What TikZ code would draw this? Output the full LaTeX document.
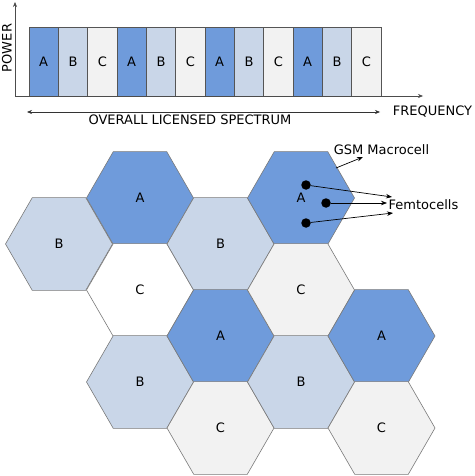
\documentclass[tikz,border=0pt]{standalone}
\usepackage{fontspec}
\setmainfont{DejaVu Sans}
\usetikzlibrary{shapes.geometric,arrows.meta}
\definecolor{cA}{HTML}{6F9BDB}
\definecolor{cB}{HTML}{C9D6E8}
\definecolor{cC}{HTML}{F2F2F2}
\definecolor{edge}{HTML}{7A7A7A}
\definecolor{baredge}{HTML}{555555}
\tikzset{
  txt/.style={font=\fontsize{13}{15}\selectfont, inner sep=0pt},
  hex/.style={regular polygon, regular polygon sides=6, minimum size=107pt,
    inner sep=0pt, outer sep=0pt, draw=edge, line width=0.6pt, txt},
  hexA/.style={hex, fill=cA},
  hexB/.style={hex, fill=cB},
  hexC/.style={hex, fill=cC},
  hexW/.style={hex, fill=white},
  bar/.style={draw=baredge, line width=0.6pt, minimum width=29.33pt, minimum height=69pt,
    inner sep=0pt, outer sep=0pt, txt},
  barA/.style={bar, fill=cA},
  barB/.style={bar, fill=cB},
  barC/.style={bar, fill=cC},
  ax/.style={draw=black!70, line width=0.6pt, -{Stealth[length=5pt,width=4pt]}},
  arr/.style={draw=black, line width=0.7pt, -{Stealth[length=6pt,width=4.5pt]}},
  dot/.style={circle, fill=black, minimum size=9.5pt, inner sep=0pt},
}
\begin{document}
\begin{tikzpicture}[x=1pt,y=-1pt]
\useasboundingbox (0,0) rectangle (474,476);
% hexagons
\node[hexB] (h01) at (59,244) {B};
\node[hexA] (h11) at (140,198) {A};
\node[hexW] (h12) at (140,290) {C};
\node[hexB] (h13) at (140,382) {B};
\node[hexB] (h21) at (220.5,244) {B};
\node[hexA] (h22) at (220.5,336) {A};
\node[hexC] (h23) at (220.5,428) {C};
\node[hexA] (h31) at (301,198) {A};
\node[hexC] (h32) at (301,290) {C};
\node[hexB] (h33) at (301,382) {B};
\node[hexA] (h41) at (381.5,336) {A};
\node[hexC] (h42) at (381.5,428) {C};
% spectrum bars
\foreach \i/\l/\s in {0/A/barA,1/B/barB,2/C/barC,3/A/barA,4/B/barB,5/C/barC,6/A/barA,7/B/barB,8/C/barC,9/A/barA,10/B/barB,11/C/barC}{
  \node[\s] (bar\i) at ({29+29.33*\i+14.67},61.5) {\l};
}
% axes
\coordinate (origin) at (15,96);
\coordinate (ytop) at (15,2);
\coordinate (xend) at (423,96);
\draw[ax] (origin) -- (ytop);
\draw[ax] (origin) -- (xend);
\node[txt, rotate=90] (power) at (7,48) {POWER};
\node[txt] (freq) at (432.5,112) {FREQUENCY};
\coordinate (sl) at (27,112);
\coordinate (sr) at (380,112);
\draw[draw=black!80, line width=0.6pt, {Stealth[length=5pt,width=4pt]}-{Stealth[length=5pt,width=4pt]}] (sl) -- (sr);
\node[txt] (spec) at (190,120) {OVERALL LICENSED SPECTRUM};
% macrocell / femtocells
\node[txt] (gsm) at (381.5,150) {GSM Macrocell};
\coordinate (gsmfrom) at (336,168);
\coordinate (gsmto) at (363,157);
\draw[arr] (gsmfrom) -- (gsmto);
\node[dot] (f1) at (306,185) {};
\node[dot] (f2) at (326,203) {};
\node[dot] (f3) at (306,223) {};
\node[txt] (fem) at (423.5,205) {Femtocells};
\coordinate (t1) at (392,197);
\coordinate (t2) at (387,203);
\coordinate (t3) at (393,213);
\draw[arr] (f1) -- (t1);
\draw[arr] (f2) -- (t2);
\draw[arr] (f3) -- (t3);
\end{tikzpicture}
\end{document}
